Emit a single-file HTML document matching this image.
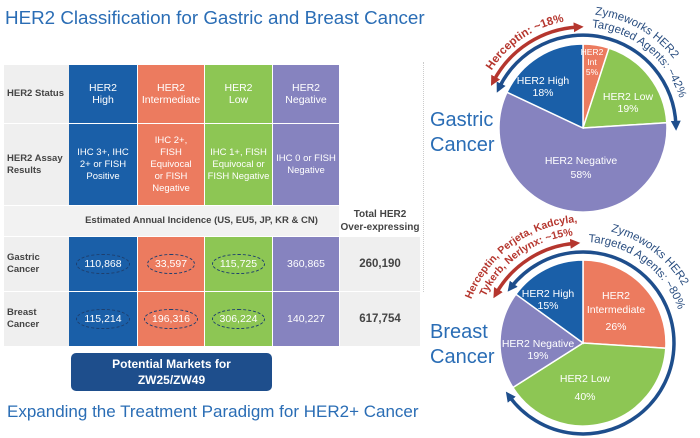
<!DOCTYPE html>
<html><head><meta charset="utf-8"><style>
body{margin:0;width:700px;height:438px;background:#fff;position:relative;overflow:hidden;font-family:"Liberation Sans",sans-serif;}
.a{position:absolute;box-sizing:border-box;}
.c{display:flex;align-items:center;justify-content:center;text-align:center;color:#fff;font-size:10.5px;line-height:12.5px;}
.l{display:flex;align-items:center;padding-left:3px;color:#444;font-weight:bold;font-size:9.5px;line-height:12px;background:#efefef;}
.b{background:#1a5fa8}.o{background:#ec7b5f}.g{background:#8dc654}.p{background:#8683bf}
.e{border:1.5px dashed #1e3f6e;border-radius:50%;padding:3px 7px;}
</style></head><body>
<div class="a" style="left:5px;top:7px;font-size:18.8px;color:#2a6db5;white-space:nowrap;">HER2 Classification for Gastric and Breast Cancer</div>

<div class="a l" style="left:4px;top:65px;width:65px;height:58px;">HER2 Status</div>
<div class="a c b" style="left:69px;top:65px;width:68px;height:58px;">HER2<br>High</div>
<div class="a c o" style="left:138px;top:65px;width:66px;height:58px;">HER2<br>Intermediate</div>
<div class="a c g" style="left:205px;top:65px;width:67px;height:58px;">HER2<br>Low</div>
<div class="a c p" style="left:273px;top:65px;width:66px;height:58px;">HER2<br>Negative</div>

<div class="a l" style="left:4px;top:124px;width:65px;height:81px;">HER2 Assay<br>Results</div>
<div class="a c b" style="left:69px;top:124px;width:68px;height:81px;font-size:9.5px;line-height:12px;">IHC 3+, IHC<br>2+ or FISH<br>Positive</div>
<div class="a c o" style="left:138px;top:124px;width:66px;height:81px;font-size:9.5px;line-height:12px;">IHC 2+,<br>FISH<br>Equivocal<br>or FISH<br>Negative</div>
<div class="a c g" style="left:205px;top:124px;width:67px;height:81px;font-size:9.5px;line-height:12px;">IHC 1+, FISH<br>Equivocal or<br>FISH Negative</div>
<div class="a c p" style="left:273px;top:124px;width:66px;height:81px;font-size:9.5px;line-height:12px;">IHC 0 or FISH<br>Negative</div>

<div class="a c" style="left:4px;top:206px;width:335px;height:30px;background:#f2f2f2;color:#444;font-weight:bold;font-size:9.5px;padding-left:60px;">Estimated Annual Incidence (US, EU5, JP, KR &amp; CN)</div>
<div class="a c" style="left:340px;top:206px;width:80px;height:30px;color:#444;font-weight:bold;font-size:10px;line-height:13px;">Total HER2<br>Over-expressing</div>

<div class="a l" style="left:4px;top:237px;width:65px;height:54px;">Gastric<br>Cancer</div>
<div class="a c b" style="left:69px;top:237px;width:68px;height:54px;"><span class="e">110,868</span></div>
<div class="a c o" style="left:138px;top:237px;width:66px;height:54px;"><span class="e">33,597</span></div>
<div class="a c g" style="left:205px;top:237px;width:67px;height:54px;"><span class="e">115,725</span></div>
<div class="a c p" style="left:273px;top:237px;width:66px;height:54px;">360,865</div>
<div class="a c" style="left:340px;top:237px;width:80px;height:54px;background:#efefef;color:#444;font-weight:bold;font-size:11.5px;">260,190</div>

<div class="a l" style="left:4px;top:292px;width:65px;height:54px;">Breast<br>Cancer</div>
<div class="a c b" style="left:69px;top:292px;width:68px;height:54px;"><span class="e">115,214</span></div>
<div class="a c o" style="left:138px;top:292px;width:66px;height:54px;"><span class="e">196,316</span></div>
<div class="a c g" style="left:205px;top:292px;width:67px;height:54px;"><span class="e">306,224</span></div>
<div class="a c p" style="left:273px;top:292px;width:66px;height:54px;">140,227</div>
<div class="a c" style="left:340px;top:292px;width:80px;height:54px;background:#efefef;color:#444;font-weight:bold;font-size:11.5px;">617,754</div>

<div class="a c" style="left:71px;top:353px;width:201px;height:38px;background:#1e4e8c;border-radius:5px;font-weight:bold;font-size:12px;line-height:16px;">Potential Markets for<br>ZW25/ZW49</div>
<div class="a" style="left:7px;top:402px;font-size:17px;color:#2a6db5;white-space:nowrap;">Expanding the Treatment Paradigm for HER2+ Cancer</div>

<div class="a" style="left:423px;top:62px;width:0;height:230px;border-left:1px dotted #ccc;"></div>

<div class="a" style="left:430px;top:108px;font-size:20px;color:#2a6db5;line-height:25px;">Gastric<br>Cancer</div>
<div class="a" style="left:430px;top:320px;font-size:20px;color:#2a6db5;line-height:25px;">Breast<br>Cancer</div>

<svg class="a" style="left:0;top:0" width="700" height="438" viewBox="0 0 700 438">
<defs>
<marker id="mb" markerWidth="10" markerHeight="10" refX="4" refY="5" orient="auto-start-reverse" markerUnits="userSpaceOnUse"><path d="M0,0 L10,5 L0,10 z" fill="#1e4e8c"/></marker>
<marker id="mr" markerWidth="10" markerHeight="10" refX="4" refY="5" orient="auto-start-reverse" markerUnits="userSpaceOnUse"><path d="M0,0 L10,5 L0,10 z" fill="#b5362e"/></marker>
<path id="gr" d="M482.9 87.5 A108 108 0 0 1 583 20"/>
<path id="gb1" d="M589 14.2 A114 114 0 0 1 696.6 118.1"/>
<path id="gb2" d="M591.8 27.4 A101 101 0 0 1 683.6 119.2"/>
<path id="br1" d="M469.3 304.7 A121 121 0 0 1 583 222"/>
<path id="br2" d="M482.9 302.5 A108 108 0 0 1 579.2 235"/>
<path id="bb1" d="M606.9 230.5 A115 115 0 0 1 698 343"/>
<path id="bb2" d="M588.3 242.1 A101 101 0 0 1 683.9 339.5"/>
</defs>
<g stroke="#fff" stroke-width="1.5">
<path d="M583 128 L583 44 A84 84 0 0 1 609 48.1Z" fill="#ec7b5f"/>
<path d="M583 128 L609 48.1 A84 84 0 0 1 666.8 122.7Z" fill="#8dc654"/>
<path d="M583 128 L666.8 122.7 A84 84 0 1 1 507 92.2Z" fill="#8683bf"/>
<path d="M583 128 L507 92.2 A84 84 0 0 1 583 44Z" fill="#1a5fa8"/>
<path d="M583 343 L583 260 A83 83 0 0 1 665.8 348.2Z" fill="#ec7b5f"/>
<path d="M583 343 L665.8 348.2 A83 83 0 0 1 512.9 387.5Z" fill="#8dc654"/>
<path d="M583 343 L512.9 387.5 A83 83 0 0 1 515.9 294.2Z" fill="#8683bf"/>
<path d="M583 343 L515.9 294.2 A83 83 0 0 1 583 260Z" fill="#1a5fa8"/>
</g>
<g fill="none" stroke-width="3.5">
<path d="M499.4 87.3 A93 93 0 0 1 675.9 124.8" stroke="#1e4e8c" marker-start="url(#mb)" marker-end="url(#mb)"/>
<path d="M493.8 80.6 A101 101 0 0 1 577.7 27.1" stroke="#b5362e" marker-start="url(#mr)" marker-end="url(#mr)"/>
<path d="M511.3 286.9 A91 91 0 1 1 509.4 396.5" stroke="#1e4e8c" marker-start="url(#mb)" marker-end="url(#mb)"/>
<path d="M496.4 293 A100 100 0 0 1 574.3 243.4" stroke="#b5362e" marker-start="url(#mr)" marker-end="url(#mr)"/>
</g>
<g font-family="Liberation Sans, sans-serif" font-size="11.5">
<text fill="#b5362e" font-weight="bold" text-anchor="middle"><textPath href="#gr" startOffset="50%">Herceptin: ~18%</textPath></text>
<text fill="#2a4e80"><textPath href="#gb1" startOffset="6">Zymeworks HER2</textPath></text>
<text fill="#2a4e80"><textPath href="#gb2" startOffset="0">Targeted Agents: ~42%</textPath></text>
<text fill="#b5362e" font-weight="bold" font-size="10.5" text-anchor="middle"><textPath href="#br1" startOffset="50%">Herceptin, Perjeta, Kadcyla,</textPath></text>
<text fill="#b5362e" font-weight="bold" font-size="10.5" text-anchor="middle"><textPath href="#br2" startOffset="50%">Tykerb, Nerlynx: ~15%</textPath></text>
<text fill="#2a4e80"><textPath href="#bb1" startOffset="4">Zymeworks HER2</textPath></text>
<text fill="#2a4e80"><textPath href="#bb2" startOffset="0">Targeted Agents: ~80%</textPath></text>
</g>
<g font-family="Liberation Sans, sans-serif" font-size="10.5" fill="#fff" text-anchor="middle">
<text x="543" y="84">HER2 High</text><text x="543" y="96">18%</text>
<text x="592" y="55" font-size="8.5">HER2</text><text x="592" y="65" font-size="8.5">Int</text><text x="592" y="75" font-size="8.5">5%</text>
<text x="628" y="100">HER2 Low</text><text x="628" y="112">19%</text>
<text x="581" y="164">HER2 Negative</text><text x="581" y="178">58%</text>
<text x="548" y="297">HER2 High</text><text x="548" y="309">15%</text>
<text x="616" y="299">HER2</text><text x="616" y="313">Intermediate</text><text x="616" y="330">26%</text>
<text x="538" y="347">HER2 Negative</text><text x="538" y="359">19%</text>
<text x="585" y="382">HER2 Low</text><text x="585" y="400">40%</text>
</g>
</svg>
</body></html>
